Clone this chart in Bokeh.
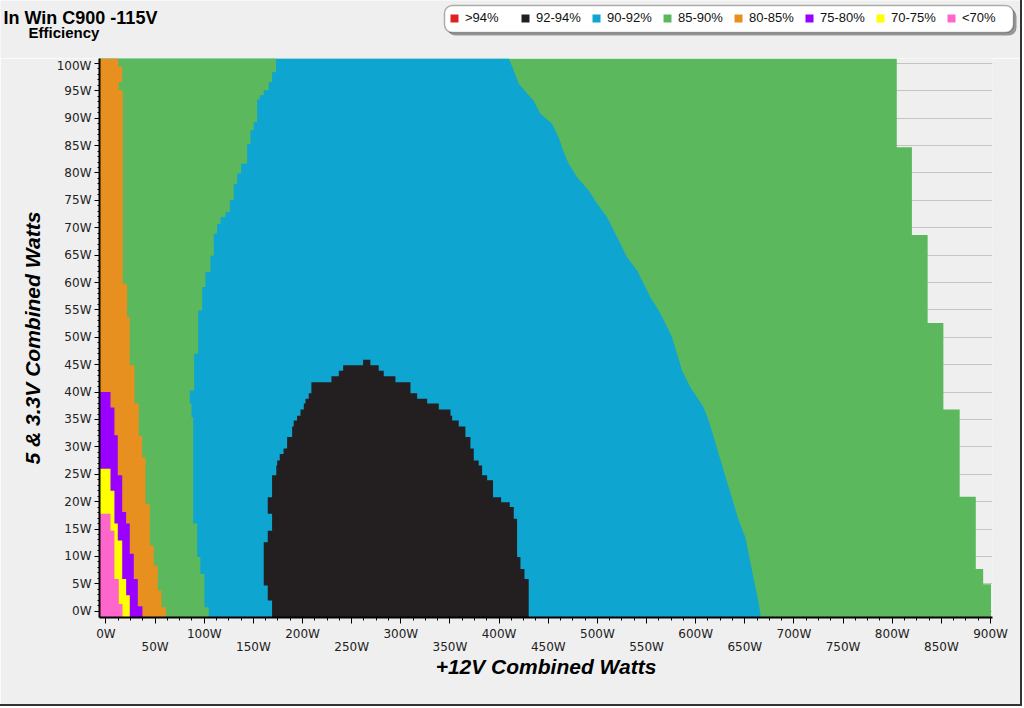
from bokeh.plotting import figure
from bokeh.layouts import column
from bokeh.models import (Range1d, FixedTicker, PrintfTickFormatter, LinearAxis, Label,
                          Legend, LegendItem, BoxAnnotation)
from bokeh.embed import file_html
from bokeh.resources import INLINE

# ---------------- data ----------------
X_MIN, X_MAX = -6.6, 902.0
Y_MIN, Y_MAX = -1.15, 100.9

classes = [">94%", "92-94%", "90-92%", "85-90%", "80-85%", "75-80%", "70-75%", "<70%"]
colors = ["#dd2222", "#231f20", "#0ea5d0", "#5cb85c", "#e8901f", "#9900ff", "#ffff00", "#ff66cc"]

x_tick_values = list(range(0, 901, 50))
y_tick_values = list(range(0, 101, 5))

# 85-90% outer limit (stepped): y edges, x per step
green_out_y = [-1.15, 4.9, 7.7, 20.9, 36.8, 52.6, 68.7, 84.7, 100.9]
green_out_x = [900.5, 892.5, 885.0, 868.6, 852.0, 836.0, 820.0, 804.6]

# 90-92% right limit (readings y, x)
blue_right_y = [-1.15, 1.4, 4.4, 7.4, 10.5, 13.5, 16.6, 19.6, 22.6, 25.7, 28.7, 31.8, 34.8,
                37.2, 40.9, 43.9, 47.0, 50.0, 52.5, 54.9, 57.3, 59.8, 62.2, 64.6, 67.1, 69.5,
                71.9, 74.4, 76.8, 79.2, 81.7, 84.1, 86.5, 89.0, 90.8, 93.2, 94.5, 96.3, 98.7,
                100.9]
blue_right_x = [666.5, 664.1, 660.7, 657.4, 653.9, 650.5, 643.7, 638.7, 633.6, 628.5, 623.4,
                618.3, 613.2, 608.1, 594.6, 586.2, 581.0, 576.0, 569.2, 562.4, 553.9, 547.1,
                540.4, 530.2, 523.4, 516.6, 509.9, 499.7, 491.1, 479.3, 470.8, 465.1, 460.6,
                453.9, 442.0, 435.2, 428.5, 420.0, 414.9, 409.8]

# 85-90% (left part) / 90-92% boundary (stepped)
green_left_y = [-1.15, 0.7, 6.8, 9.9, 16.0, 35.4, 37.9, 40.3, 47.0, 54.9, 59.2, 61.9, 64.9,
                68.9, 70.7, 71.9, 72.9, 75.0, 78.0, 79.9, 81.7, 85.3, 87.8, 89.3, 93.4, 94.2,
                95.1, 96.6, 98.4, 100.9]
green_left_x = [104.6, 100.2, 96.0, 92.8, 88.7, 87.0, 85.3, 89.7, 93.8, 97.9, 101.2, 106.3,
                109.7, 113.0, 116.5, 121.6, 126.0, 130.0, 133.5, 137.5, 143.6, 147.0, 150.4,
                153.8, 156.5, 160.5, 165.6, 169.0, 173.0]

# 80-85% right limit (stepped)
orange_y = [-1.15, 0.7, 3.8, 8.3, 12.0, 19.6, 28.1, 32.0, 37.9, 44.9, 53.7, 59.8, 95.1, 96.6,
            99.4, 100.9]
orange_x = [60.9, 56.5, 52.7, 48.6, 44.6, 40.2, 36.8, 33.4, 29.0, 24.2, 21.5, 17.0, 13.0,
            16.5, 12.4]

# 75-80% right limit (stepped)
purple_y = [-1.15, 0.9, 5.9, 10.5, 16.0, 18.1, 24.8, 32.1, 37.2, 40.0]
purple_x = [37.1, 32.4, 28.3, 24.2, 20.5, 16.5, 12.0, 8.6, 4.6]

# 70-75% right limit (stepped)
yellow_y = [-1.15, 2.9, 5.9, 12.9, 16.0, 22.0, 26.0]
yellow_x = [24.2, 20.5, 16.5, 12.0, 8.6, 4.6]

# <70% right limit (stepped)
pink_y = [-1.15, 1.3, 5.9, 14.7, 17.8]
pink_x = [16.8, 13.0, 8.6, 4.6]

# 92-94% region: rows (y edges) with left and right limits
black_y = [-1.15, 1.95, 4.7, 5.9, 7.7, 9.9, 12.6, 14.7, 16.9, 17.8, 19.0, 19.9, 20.8, 23.9,
           24.8, 26.6, 27.5, 28.7, 29.7, 31.8, 33.7, 34.8, 35.7, 36.8, 37.9, 38.8, 39.8,
           41.8, 42.9, 43.9, 44.9, 45.9]
black_left = [169.0, 164.6, 160.5, 160.5, 160.5, 160.5, 164.6, 169.0, 169.0, 164.6, 164.6,
              164.6, 169.0, 169.0, 173.3, 174.2, 176.8, 180.7, 184.3, 189.4, 191.0, 194.4,
              197.9, 201.3, 203.0, 206.3, 209.0, 229.4, 236.9, 241.3, 261.6]
black_right = [430.1, 430.1, 430.1, 425.8, 421.7, 418.3, 418.3, 418.3, 414.9, 414.9, 410.8,
               402.0, 393.8, 387.8, 382.7, 379.2, 374.2, 374.2, 370.8, 365.7, 358.9, 352.2,
               350.5, 338.6, 326.8, 316.6, 309.8, 294.5, 282.6, 277.5, 269.0]


def step_poly(y_edges, x_vals, x0):
    xs, ys = [x0], [y_edges[0]]
    for i, xv in enumerate(x_vals):
        xs += [xv, xv]
        ys += [y_edges[i], y_edges[i + 1]]
    xs.append(x0)
    ys.append(y_edges[-1])
    return xs, ys


def band_poly(y_edges, left, right):
    xs, ys = [], []
    for i in range(len(right)):
        xs += [right[i], right[i]]
        ys += [y_edges[i], y_edges[i + 1]]
    for i in reversed(range(len(left))):
        xs += [left[i], left[i]]
        ys += [y_edges[i + 1], y_edges[i]]
    return xs, ys


BG = "#efefef"
TICK_FONT = "DejaVu Sans"
LABEL_FONT = "Liberation Sans"
col = dict(zip(classes, colors))

W = 1020
HEAD_H = 58
MAIN_H = 646

# ---------------- header (titles + legend) ----------------
head = figure(width=W, height=HEAD_H, x_range=Range1d(0, W), y_range=Range1d(HEAD_H, 0),
              output_backend="svg", toolbar_location=None,
              x_axis_type=None, y_axis_type=None,
              min_border_left=0, min_border_right=0, min_border_top=0, min_border_bottom=0,
              background_fill_color=BG, border_fill_color=BG, outline_line_color=None)
head.frame_align = False
head.xgrid.visible = False
head.ygrid.visible = False

head.add_layout(Label(x=3, y=17.5, text="In Win C900 -115V", text_font=LABEL_FONT,
                      text_font_size="18px", text_font_style="bold", text_color="black",
                      text_baseline="alphabetic"))
head.add_layout(Label(x=28, y=31.7, text="Efficiency", text_font=LABEL_FONT,
                      text_font_size="15px", text_font_style="bold", text_color="black",
                      text_baseline="alphabetic"))

head.add_layout(BoxAnnotation(left=447, right=1016, top=8, bottom=35,
                              fill_color="#7a7a7a", fill_alpha=0.75, line_color=None,
                              border_radius=8))
head.add_layout(BoxAnnotation(left=444, right=1013, top=5, bottom=32,
                              fill_color="white", fill_alpha=1.0, line_color="black",
                              line_width=1.5, border_radius=8))

# legend swatches: tiny renderers placed outside the visible header range
leg_rend = {c: head.quad(left=[-20], right=[-10], top=[-20], bottom=[-10],
                         fill_color=col[c], line_color=None) for c in classes}
legend = Legend(items=[LegendItem(label=c, renderers=[leg_rend[c]]) for c in classes],
                orientation="horizontal", location=(449, 33),
                glyph_width=10, glyph_height=10, label_standoff=6, label_width=48,
                label_height=12, spacing=7, padding=0, margin=0,
                background_fill_alpha=0, border_line_color=None,
                label_text_font=LABEL_FONT, label_text_font_size="13px",
                label_text_color="#111111")
head.add_layout(legend)

# ---------------- main chart ----------------
p = figure(width=W, height=MAIN_H,
           x_range=Range1d(X_MIN, X_MAX), y_range=Range1d(Y_MIN, Y_MAX),
           output_backend="svg", toolbar_location=None,
           min_border_left=99, min_border_right=W - 99 - 893, min_border_top=0,
           min_border_bottom=MAIN_H - 559,
           background_fill_color=BG, border_fill_color=BG, outline_line_color=None)
p.frame_align = False

xs, ys = step_poly(green_out_y, green_out_x, X_MIN)
p.patch(xs, ys, fill_color=col["85-90%"], line_color=None)

xs = [X_MIN] + blue_right_x + [X_MIN]
ys = [Y_MIN] + blue_right_y + [Y_MAX]
p.patch(xs, ys, fill_color=col["90-92%"], line_color=None)

xs, ys = step_poly(green_left_y, green_left_x, X_MIN)
p.patch(xs, ys, fill_color=col["85-90%"], line_color=None)

xs, ys = step_poly(orange_y, orange_x, X_MIN)
p.patch(xs, ys, fill_color=col["80-85%"], line_color=None)

xs, ys = step_poly(purple_y, purple_x, X_MIN)
p.patch(xs, ys, fill_color=col["75-80%"], line_color=None)

xs, ys = step_poly(yellow_y, yellow_x, X_MIN)
p.patch(xs, ys, fill_color=col["70-75%"], line_color=None)

xs, ys = step_poly(pink_y, pink_x, X_MIN)
p.patch(xs, ys, fill_color=col["<70%"], line_color=None)

xs, ys = band_poly(black_y, black_left, black_right)
p.patch(xs, ys, fill_color=col["92-94%"], line_color=None)

# grid
p.xgrid.visible = False
p.ygrid.ticker = FixedTicker(ticks=y_tick_values)
p.ygrid.grid_line_color = "#c4c4c4"
p.ygrid.grid_line_width = 1

# x axis, row 1
xa = p.xaxis[0]
xa.ticker = FixedTicker(ticks=x_tick_values,
                        minor_ticks=[t * 12.5 for t in range(0, 73)])
xa.formatter = PrintfTickFormatter(format="%dW")
xa.major_label_overrides = {v: "" for v in x_tick_values if v % 100 != 0}
xa.axis_line_width = 2
xa.axis_line_color = "black"
xa.major_tick_line_color = "black"
xa.minor_tick_line_color = "black"
xa.major_tick_out = 6
xa.major_tick_in = 0
xa.minor_tick_out = 3
xa.minor_tick_in = 0
xa.major_label_standoff = 3
xa.major_label_text_font = TICK_FONT
xa.major_label_text_font_size = "12px"
xa.major_label_text_color = "#222222"

# x axis, row 2 (staggered labels)
xa2 = LinearAxis(ticker=FixedTicker(ticks=[v for v in x_tick_values if v % 100 != 0]),
                 formatter=PrintfTickFormatter(format="%dW"))
xa2.axis_line_color = None
xa2.major_tick_line_color = None
xa2.minor_tick_line_color = None
xa2.major_tick_out = 0
xa2.major_tick_in = 0
xa2.major_label_standoff = -4
xa2.major_label_text_font = TICK_FONT
xa2.major_label_text_font_size = "12px"
xa2.major_label_text_color = "#222222"
xa2.axis_label = "+12V Combined Watts"
xa2.axis_label_text_font = LABEL_FONT
xa2.axis_label_text_font_size = "21px"
xa2.axis_label_text_font_style = "bold italic"
xa2.axis_label_text_color = "black"
xa2.axis_label_standoff = -2
p.add_layout(xa2, "below")

# y axis
ya = p.yaxis[0]
ya.ticker = FixedTicker(ticks=y_tick_values, minor_ticks=list(range(0, 101)))
ya.formatter = PrintfTickFormatter(format="%dW")
ya.axis_line_width = 2
ya.axis_line_color = "black"
ya.major_tick_line_color = "black"
ya.minor_tick_line_color = "black"
ya.major_tick_out = 5
ya.major_tick_in = 0
ya.minor_tick_out = 2
ya.minor_tick_in = 0
ya.major_label_standoff = 3
ya.major_label_text_font = TICK_FONT
ya.major_label_text_font_size = "12px"
ya.major_label_text_color = "#222222"
ya.axis_label = "5 & 3.3V Combined Watts"
ya.axis_label_text_font = LABEL_FONT
ya.axis_label_text_font_size = "21px"
ya.axis_label_text_font_style = "bold italic"
ya.axis_label_text_color = "black"
ya.axis_label_standoff = 10

layout = column(head, p, spacing=0,
                styles={"border-right": "2px solid #333333",
                        "border-bottom": "2px solid #333333"})
open("out.html", "w").write(file_html(layout, INLINE))
